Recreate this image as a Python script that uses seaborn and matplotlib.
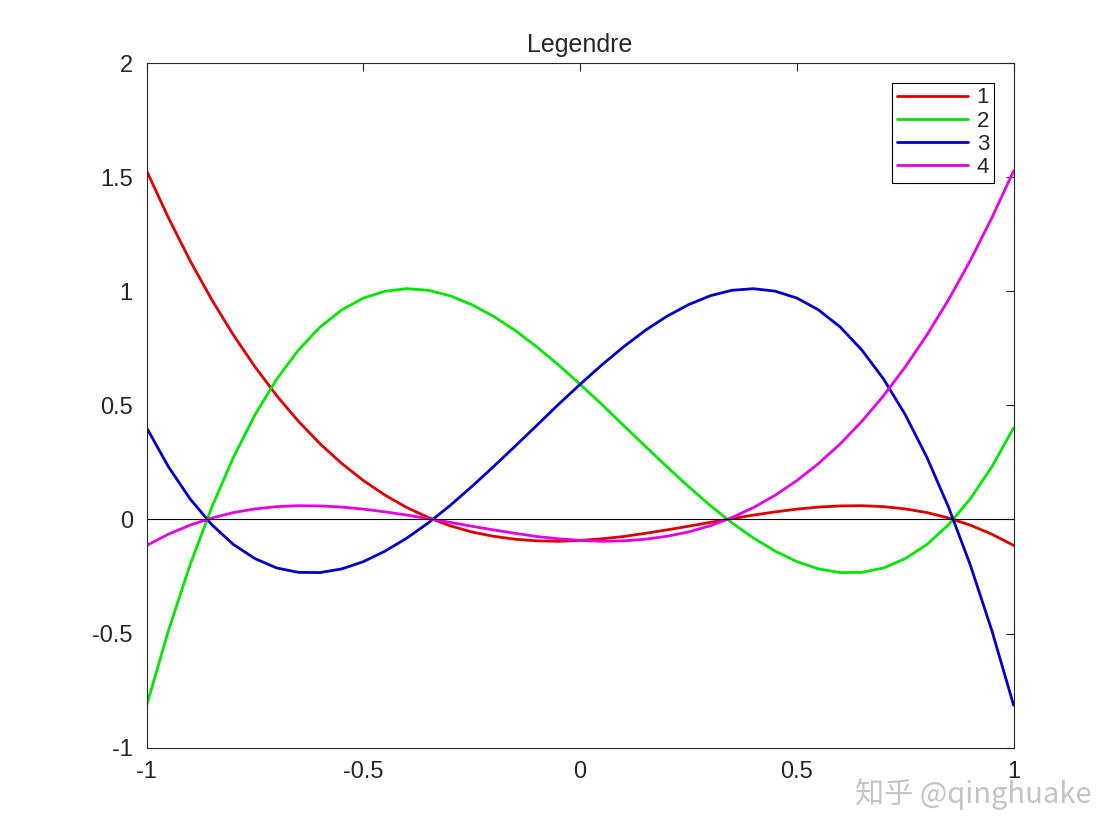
import matplotlib
matplotlib.use("Agg")
import matplotlib.pyplot as plt
import seaborn as sns
import numpy as np
import pandas as pd

x = np.round(np.arange(-1, 1.0001, 0.05), 2)
red = [1.527, 1.322, 1.134, 0.963, 0.808, 0.668, 0.542, 0.430, 0.331, 0.245, 0.170,
       0.106, 0.052, 0.008, -0.028, -0.055, -0.074, -0.087, -0.094, -0.096, -0.092,
       -0.085, -0.075, -0.061, -0.046, -0.030, -0.013, 0.003, 0.019, 0.033, 0.045,
       0.054, 0.059, 0.060, 0.056, 0.046, 0.030, 0.006, -0.025, -0.065, -0.114]
green = [-0.814, -0.488, -0.199, 0.053, 0.272, 0.459, 0.615, 0.742, 0.843, 0.918, 0.970,
         1.000, 1.011, 1.004, 0.980, 0.941, 0.890, 0.828, 0.756, 0.677, 0.592,
         0.504, 0.412, 0.321, 0.231, 0.144, 0.061, -0.015, -0.082, -0.139, -0.185,
         -0.217, -0.233, -0.232, -0.213, -0.172, -0.110, -0.023, 0.090, 0.231, 0.401]
blue = green[::-1]
magenta = red[::-1]
labels = ["1", "2", "3", "4"]
colors = ["#e00000", "#00e600", "#0000cc", "#e600e6"]

df = pd.concat([pd.DataFrame({"x": x, "y": v, "s": l})
                for v, l in zip([red, green, blue, magenta], labels)])

sns.set_style("white")
plt.rcParams['font.family'] = ['Liberation Sans', 'Noto Sans CJK SC', 'DejaVu Sans']
fig = plt.figure(figsize=(11.2, 8.4), dpi=100)
ax = fig.add_axes([0.131, 0.110, 0.774, 0.815])
sns.lineplot(data=df, x="x", y="y", hue="s", palette=colors, linewidth=2, ax=ax)
ax.axhline(0, color="black", linewidth=0.8)
ax.set_xlim(-1, 1)
ax.set_ylim(-1, 2)
ax.set_xticks([-1, -0.5, 0, 0.5, 1])
ax.set_xticklabels(["-1", "-0.5", "0", "0.5", "1"])
ax.set_yticks([-1, -0.5, 0, 0.5, 1, 1.5, 2])
ax.set_yticklabels(["-1", "-0.5", "0", "0.5", "1", "1.5", "2"])
ax.tick_params(direction="in", labelsize=17, length=6, top=True, right=True,
               color="#262626", pad=10)
for s in ax.spines.values():
    s.set_color("#262626"); s.set_linewidth(0.8)
ax.set_xlabel(""); ax.set_ylabel("")
ax.set_title("Legendre", fontsize=18, pad=8)
leg = ax.legend(loc="upper right", fontsize=16, fancybox=False, edgecolor="black",
                handlelength=3.2, borderpad=0.2, labelspacing=0.1, handletextpad=0.4,
                borderaxespad=0.9, framealpha=1)
leg.get_frame().set_linewidth(0.8)
fig.text(0.975, 0.055, "知乎 @qinghuake", ha="right", va="center", fontsize=21,
         color="#c4c4c4", family=['Noto Sans CJK SC', 'DejaVu Sans'])
fig.savefig("out.png", dpi=100)
